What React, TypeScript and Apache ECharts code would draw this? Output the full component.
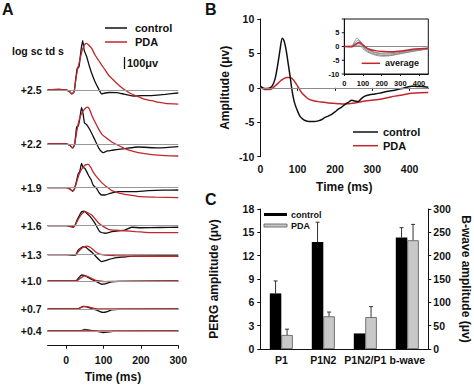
import React, { useEffect, useRef } from "react";
import * as echarts from "echarts";

// ---------------- DATA ----------------
// Panel A: flash intensities (log sc td s) and traces as [time ms, amplitude µV]
const intensityLabels = ["+2.5", "+2.2", "+1.9", "+1.6", "+1.3", "+1.0", "+0.7", "+0.4"];
const aTimeTicks = [0, 100, 200, 300];

const ctl25 = [[-50,0],[-20,4],[0,0],[10,-17],[15,-33],[21,-14],[25,83],[29.5,181],[34,192],[39.5,333],[44,411],[48,333],[55,275],[61,208],[68,139],[77,69],[86,14],[95,-33],[104,-25],[115,-21],[135,-22],[155,-35],[179,-50],[200,-47],[224,-47],[265,-36],[300,-25]];
const pda25 = [[-50,0],[-20,4],[0,0],[10,-17],[15,-33],[21,-14],[25,75],[30,167],[35,233],[40,300],[45,350],[50,383],[55,389],[60,375],[68,347],[77,292],[86,250],[95,208],[104,167],[113,125],[122,97],[140,42],[157,0],[175,-33],[193,-56],[211,-79],[229,-89],[250,-104],[265,-111],[300,-117]];
const ctl22 = [[-50,0],[0,0],[10,-12],[17,-33],[22,-8],[25,67],[28,142],[32,150],[36,208],[41,304],[45,250],[49,175],[55,160],[64,114],[77,31],[88,-38],[99,-72],[110,-58],[122,-52],[157,-38],[193,-25],[247,-33],[300,-22]];
const pda22 = [[-50,0],[0,0],[10,-12],[17,-33],[22,-8],[27,83],[32,167],[38,233],[45,275],[52,300],[57,308],[62,292],[68,242],[77,183],[86,128],[95,83],[104,58],[122,17],[140,-12],[157,-38],[175,-58],[193,-72],[229,-88],[265,-97],[300,-100]];
const ctl19 = [[-50,0],[0,0],[10,-12],[17,-30],[22,-8],[27,50],[32,117],[36,133],[41,203],[45,167],[50,162],[59,106],[66,70],[72,22],[81,-5],[88,-42],[95,-61],[104,-61],[117,-47],[140,-33],[179,-33],[220,-25],[260,-21],[300,-19]];
const pda19 = [[-50,0],[0,0],[10,-12],[17,-25],[22,-8],[28,50],[35,117],[42,158],[50,188],[59,195],[66,167],[73,125],[81,92],[95,42],[108,8],[122,-25],[144,-47],[170,-62],[198,-75],[240,-79],[300,-83]];
const ctl16 = [[-50,0],[0,0],[15,-4],[19,-13],[24,8],[29,47],[35,83],[41,117],[48,122],[56,100],[64,75],[77,19],[90,-50],[104,-63],[122,-50],[140,-42],[157,-36],[175,-13],[200,-17],[250,-15],[300,-13]];
const pda16 = [[-50,0],[0,0],[19,-13],[24,4],[30,42],[38,83],[45,108],[50,117],[58,108],[68,89],[77,58],[86,25],[100,-8],[113,-30],[135,-38],[157,-42],[185,-50],[211,-55],[250,-58],[300,-58]];
const ctl13 = [[-50,0],[0,0],[20,-4],[26,0],[32,39],[40,58],[46,67],[52,62],[60,42],[70,17],[80,-17],[88,-42],[95,-58],[104,-50],[115,-38],[126,-30],[150,-21],[180,-12],[250,-11],[300,-11]];
const pda13 = [[-50,0],[0,0],[24,0],[32,25],[40,50],[48,67],[56,72],[64,62],[72,42],[80,21],[90,4],[104,-3],[130,-8],[180,-12],[250,-13],[300,-13]];
const ctl10 = [[-50,0],[0,0],[25,0],[32,21],[41,50],[48,46],[55,37],[65,17],[75,4],[85,-12],[95,-27],[105,-23],[122,-8],[140,-3],[300,0]];
const pda10 = [[-50,0],[0,0],[28,0],[35,17],[44,37],[50,42],[58,36],[68,21],[77,8],[90,0],[104,-5],[130,-3],[300,0]];
const ctl07 = [[-50,0],[30,0],[38,12],[46,22],[55,17],[68,4],[80,-8],[90,-21],[99,-28],[110,-21],[122,-8],[140,-3],[300,0]];
const pda07 = [[-50,0],[30,0],[40,13],[50,22],[60,17],[75,5],[90,0],[300,0]];
const ctl04 = [[-50,0],[35,0],[45,8],[50,13],[60,8],[75,0],[90,-8],[99,-13],[110,-10],[125,-3],[300,0]];
const pda04 = [[-50,0],[35,0],[45,6],[50,8],[60,6],[75,1],[300,0]];

const aControl = [ctl25, ctl22, ctl19, ctl16, ctl13, ctl10, ctl07, ctl04];
const aPDA = [pda25, pda22, pda19, pda16, pda13, pda10, pda07, pda04];
const scaleBarUV = 100;

// Panel B: PERG waveforms [time ms, amplitude µV]
const bTimeTicks = [0, 100, 200, 300, 400];
const bControl = [[0,0.25],[12,-0.1],[25,0],[32,0.3],[39,1.2],[44,2.5],[48,3.8],[53,5.6],[59,7.2],[63,6.9],[67,6.1],[71,4.9],[75,3.4],[80,1.6],[84,0],[88,-1.3],[93,-2.4],[100,-3.4],[106,-4.1],[113,-4.5],[120,-4.75],[130,-4.9],[145,-4.9],[155,-4.8],[165,-4.6],[173,-4.3],[182,-4.1],[191,-3.85],[200,-3.5],[209,-3.1],[218,-2.8],[227,-2.4],[236,-2.1],[245,-1.8],[253,-1.9],[262,-2.0],[270,-1.6],[280,-1.2],[293,-1.0],[307,-0.9],[325,-0.7],[343,-0.5],[360,-0.35],[379,-0.1],[392,0.1],[405,0.24],[420,0.2],[432,0.2],[450,0.1]];
const bPDA = [[0,0.1],[12,-0.24],[26,-0.24],[39,0.24],[53,0.96],[62,1.3],[71,1.5],[78,1.5],[84,1.4],[90,1.05],[97,0.5],[104,-0.1],[111,-0.7],[120,-1.2],[129,-1.6],[140,-1.85],[155,-2.0],[170,-2.1],[182,-2.2],[195,-2.25],[209,-2.3],[222,-2.35],[236,-2.3],[254,-2.2],[268,-2.05],[280,-1.9],[298,-1.8],[316,-1.7],[340,-1.45],[361,-1.2],[383,-1.0],[405,-0.8],[428,-0.7],[450,-0.67]];

// Inset: individual PDA eyes (grey) and average (red)
const insetGrey1 = [[0,0],[40,0.2],[55,1.8],[68,3.0],[80,2.4],[100,0.6],[120,-0.8],[150,-1.8],[200,-2.4],[250,-2.3],[300,-1.8],[350,-1.4],[400,-1.0],[450,-0.7]];
const insetGrey2 = [[0,0],[40,0],[58,1.4],[72,2.2],[85,1.6],[105,-0.2],[130,-1.4],[160,-2.2],[210,-2.8],[260,-2.6],[310,-2.0],[370,-1.3],[450,-0.8]];
const insetGrey3 = [[0,0],[40,-0.1],[60,0.6],[78,1.1],[95,0.2],[115,-1.2],[140,-2.2],[180,-3.0],[220,-3.3],[260,-3.0],[320,-2.2],[400,-1.3],[450,-0.9]];
const insetGrey4 = [[0,0],[40,-0.2],[62,0.2],[80,0.5],[100,-0.8],[125,-2.0],[155,-2.9],[200,-3.5],[240,-3.4],[290,-2.8],[350,-2.0],[420,-1.2],[450,-1.0]];
const insetGrey = [insetGrey1, insetGrey2, insetGrey3, insetGrey4];
const insetAverage = [[0,0],[40,0],[55,0.5],[68,1.2],[79,1.5],[92,1.0],[110,0],[130,-0.9],[165,-1.5],[210,-1.8],[250,-1.9],[310,-1.6],[380,-0.9],[450,-0.6]];
const insetXTicks = [0, 100, 200, 300, 400];
const insetYTicks = [-10, -5, 0, 5, 10];
const insetYLabels = [-10, -5, 0, 5];

// Panel C: amplitudes (mean and error)
const pergCategories = ["P1", "P1N2", "P1N2/P1"];
const bwaveCategory = "b-wave";
const pergControl = [7.15, 13.75, 2.0];
const pergControlErr = [1.6, 2.55, 0];
const pergPDA = [1.8, 4.2, 4.1];
const pergPDAErr = [0.75, 0.55, 1.35];
const bwaveControl = 239;
const bwaveControlErr = 21;
const bwavePDA = 233;
const bwavePDAErr = 34;

// ---------------- LAYOUT / STYLE ----------------
const FONT = "'Liberation Sans', Arial, sans-serif";
const INK = "#111111";
const RED = "#c0272d";
const GREY = "#999999";
const A_BASELINES = [90, 144, 187.7, 225.7, 254.7, 281, 309, 331];
const A_LEFT = 47.6;
const A_WIDTH = 130.7;
const PX_PER_UV = 0.12;
const A_YMIN = -150;
const A_YMAX = 450;
const BAR_W = 11.5;
const INSET_GRID = 10;

const bold = (size: number, color = INK) => ({ fontFamily: FONT, fontWeight: "bold" as const, fontSize: size, color });

const t = (x: number, y: number, text: string, size: number, va = "middle", align = "left") => ({
  type: "text", x, y, z: 100, style: { text, fontFamily: FONT, fontWeight: "bold", fontSize: size, fill: INK, verticalAlign: va, align },
});
const ln = (x1: number, y1: number, x2: number, y2: number, color: string, w = 1.5) => ({
  type: "line", z: 100, shape: { x1, y1, x2, y2 }, style: { stroke: color, lineWidth: w },
});

function baseGraphic() {
  const scaleTop = 57;
  return [
    t(2, 1, "A", 16, "top"),
    t(205, 1, "B", 16, "top"),
    t(205, 191, "C", 16, "top"),
    ln(105, 28, 127, 28, INK), t(135, 28, "control", 11),
    ln(105, 42, 127, 42, RED), t(135, 42, "PDA", 11),
    t(12, 51, "log sc td s", 10.5),
    ln(124.5, scaleTop, 124.5, scaleTop + scaleBarUV * PX_PER_UV, INK, 1.3),
    t(127, scaleTop + (scaleBarUV * PX_PER_UV) / 2, "100\u03bcv", 11),
    ln(353, 132, 378, 132, INK), t(383, 132, "control", 11),
    ln(353, 145.7, 378, 145.7, RED), t(383, 145.7, "PDA", 11),
    ln(361.7, 63.3, 380, 63.3, RED), t(385, 63.3, "average", 9),
    { type: "rect", z: 100, shape: { x: 264, y: 213, width: 23, height: 3 }, style: { fill: "#000" } },
    t(291, 214.5, "control", 9),
    { type: "rect", z: 100, shape: { x: 264, y: 224, width: 23, height: 3 }, style: { fill: "#c8c8c8", stroke: "#555", lineWidth: 0.8 } },
    t(291, 225.5, "PDA", 9),
  ];
}

function buildOption() {
  const grid: any[] = [];
  const xAxis: any[] = [];
  const yAxis: any[] = [];
  const series: any[] = [];

  // Panel A trace grids
  intensityLabels.forEach((label, i) => {
    const base = A_BASELINES[i];
    grid.push({ left: A_LEFT, width: A_WIDTH, top: base - A_YMAX * PX_PER_UV, height: (A_YMAX - A_YMIN) * PX_PER_UV });
    xAxis.push({ gridIndex: i, type: "value", min: -50, max: 300, show: false });
    yAxis.push({
      gridIndex: i, type: "value", min: A_YMIN, max: A_YMAX,
      axisLine: { show: false }, axisTick: { show: false }, splitLine: { show: false },
      axisLabel: { customValues: [0], formatter: () => label, margin: 6, ...bold(10.5) },
    });
    series.push({
      type: "line", xAxisIndex: i, yAxisIndex: i, data: aControl[i], symbol: "none", silent: true,
      lineStyle: { opacity: 0 }, z: 1,
      markLine: { silent: true, symbol: ["none", "none"], label: { show: false }, emphasis: { disabled: true },
        lineStyle: { color: GREY, type: "solid", width: 1 }, data: [{ yAxis: 0 }] },
    });
    series.push({ name: "control", type: "line", xAxisIndex: i, yAxisIndex: i, data: aControl[i], symbol: "none", smooth: 0.2, lineStyle: { color: INK, width: 1.3 }, itemStyle: { color: INK }, z: 2 });
    series.push({ name: "PDA", type: "line", xAxisIndex: i, yAxisIndex: i, data: aPDA[i], symbol: "none", smooth: 0.2, lineStyle: { color: RED, width: 1.3 }, itemStyle: { color: RED }, z: 3 });
  });

  // Panel A time axis (grid 8)
  const aAxisBottom = 345.7;
  grid.push({ left: A_LEFT, width: A_WIDTH, top: aAxisBottom - 40, height: 40 });
  xAxis.push({
    gridIndex: 8, type: "value", min: -50, max: 300,
    axisLine: { lineStyle: { color: INK, width: 1 } },
    axisTick: { customValues: aTimeTicks, length: 3, lineStyle: { color: INK } },
    axisLabel: { customValues: aTimeTicks, margin: 9, ...bold(10.5) },
    splitLine: { show: false },
    name: "Time (ms)", nameLocation: "middle", nameGap: 25, nameTextStyle: bold(12),
  });
  yAxis.push({ gridIndex: 8, type: "value", min: 0, max: 1, show: false });

  // Panel B main (grid 9)
  grid.push({ left: 260.3, top: 19, width: 168, height: 137.7 });
  xAxis.push({
    gridIndex: 9, type: "value", min: 0, max: 450,
    axisLine: { lineStyle: { color: INK, width: 1 } },
    axisTick: { customValues: bTimeTicks, length: 3, lineStyle: { color: INK } },
    axisLabel: { customValues: bTimeTicks, margin: 7, ...bold(10.5) },
    splitLine: { show: false },
    name: "Time (ms)", nameLocation: "middle", nameGap: 24, nameTextStyle: bold(12),
  });
  yAxis.push({
    gridIndex: 9, type: "value", min: -10, max: 10, interval: 5,
    axisLine: { show: true, lineStyle: { color: INK, width: 1 } },
    axisTick: { show: true, length: 3, lineStyle: { color: INK } },
    axisLabel: { margin: 6, ...bold(10.5) },
    splitLine: { show: false },
    name: "Amplitude (\u03bcv)", nameLocation: "middle", nameRotate: 90, nameGap: 29, nameTextStyle: bold(12),
  });
  series.push({
    type: "line", xAxisIndex: 9, yAxisIndex: 9, data: bPDA, symbol: "none", silent: true, lineStyle: { opacity: 0 }, z: 1,
    markLine: { silent: true, symbol: ["none", "none"], label: { show: false }, emphasis: { disabled: true },
      lineStyle: { color: "#8a8a8a", type: "solid", width: 1 }, data: [{ yAxis: 0 }] },
  });
  series.push({ name: "PDA", type: "line", xAxisIndex: 9, yAxisIndex: 9, data: bPDA, symbol: "none", smooth: 0.3, lineStyle: { color: RED, width: 1.5 }, itemStyle: { color: RED }, z: 2 });
  series.push({ name: "control", type: "line", xAxisIndex: 9, yAxisIndex: 9, data: bControl, symbol: "none", smooth: 0.3, lineStyle: { color: INK, width: 1.5 }, itemStyle: { color: INK }, z: 3 });

  // Inset (grid 10)
  grid.push({ left: 344.3, top: 19, width: 84, height: 55, show: true, backgroundColor: "#ffffff", borderColor: INK, borderWidth: 1 });
  xAxis.push({
    gridIndex: INSET_GRID, type: "value", min: 0, max: 450,
    axisLine: { onZero: false, lineStyle: { color: INK, width: 1 } },
    axisTick: { customValues: insetXTicks, length: 2, lineStyle: { color: INK } },
    axisLabel: { customValues: insetXTicks, margin: 5, ...bold(7.5) },
    splitLine: { show: false },
  });
  yAxis.push({
    gridIndex: INSET_GRID, type: "value", min: -10, max: 10, interval: 5, position: "left",
    axisLine: { show: true, onZero: false, lineStyle: { color: INK, width: 1 } },
    axisTick: { show: false }, axisLabel: { show: false },
    splitLine: { show: false },
  });
  series.push({
    type: "line", xAxisIndex: INSET_GRID, yAxisIndex: INSET_GRID, data: insetAverage, symbol: "none", silent: true, lineStyle: { opacity: 0 }, z: 6,
    markLine: { silent: true, symbol: ["none", "none"], label: { show: false }, emphasis: { disabled: true },
      lineStyle: { color: "#8a8a8a", type: "solid", width: 1 }, data: [{ yAxis: 0 }] },
  });
  insetGrey.forEach((g) => {
    series.push({ type: "line", xAxisIndex: INSET_GRID, yAxisIndex: INSET_GRID, data: g, symbol: "none", smooth: 0.3, silent: true, lineStyle: { color: "#8c8c8c", width: 1 }, z: 7 });
  });
  series.push({ name: "average", type: "line", xAxisIndex: INSET_GRID, yAxisIndex: INSET_GRID, data: insetAverage, symbol: "none", smooth: 0.3, lineStyle: { color: RED, width: 1.5 }, itemStyle: { color: RED }, z: 8 });

  // Panel C (grid 11)
  const categories = [...pergCategories, bwaveCategory];
  grid.push({ left: 260.3, top: 209, width: 168, height: 140 });
  xAxis.push({
    gridIndex: 11, type: "category", data: categories,
    axisLine: { lineStyle: { color: INK, width: 1 } }, axisTick: { show: false },
    axisLabel: { interval: 0, hideOverlap: false, margin: 5, ...bold(10.5) }, splitLine: { show: false },
  });
  xAxis.push({ gridIndex: 11, type: "category", data: categories, show: false });
  yAxis.push({
    gridIndex: 11, type: "value", min: 0, max: 18, interval: 3, position: "left",
    axisLine: { show: true, lineStyle: { color: INK, width: 1 } },
    axisTick: { show: true, length: 3, lineStyle: { color: INK } },
    axisLabel: { margin: 6, ...bold(10.5) }, splitLine: { show: false },
    name: "PERG amplitude (\u03bcv)", nameLocation: "middle", nameRotate: 90, nameGap: 40, nameTextStyle: bold(12),
  });
  yAxis.push({
    gridIndex: 11, type: "value", min: 0, max: 300, interval: 50, position: "right",
    axisLine: { show: true, lineStyle: { color: INK, width: 1 } },
    axisTick: { show: true, length: 3, lineStyle: { color: INK } },
    axisLabel: { margin: 5, ...bold(10.5) }, splitLine: { show: false },
    name: "B-wave amplitude (\u03bcv)", nameLocation: "middle", nameRotate: -90, nameGap: 32, nameTextStyle: bold(12),
  });
  const xC = 11, xC2 = 12, yL = 11, yR = 12;
  const nulls = pergCategories.map(() => null);
  const ctlStyle = { color: "#000000" };
  const pdaStyle = { color: "#c8c8c8", borderColor: "#555555", borderWidth: 0.8 };
  series.push({ name: "control", type: "bar", xAxisIndex: xC, yAxisIndex: yL, data: [...pergControl, null], barWidth: BAR_W, barGap: "0%", itemStyle: ctlStyle, z: 2 });
  series.push({ name: "PDA", type: "bar", xAxisIndex: xC, yAxisIndex: yL, data: [...pergPDA, null], barWidth: BAR_W, barGap: "0%", itemStyle: pdaStyle, z: 2 });
  series.push({ name: "control", type: "bar", xAxisIndex: xC2, yAxisIndex: yR, data: [...nulls, bwaveControl], barWidth: BAR_W, barGap: "0%", itemStyle: ctlStyle, z: 2 });
  series.push({ name: "PDA", type: "bar", xAxisIndex: xC2, yAxisIndex: yR, data: [...nulls, bwavePDA], barWidth: BAR_W, barGap: "0%", itemStyle: pdaStyle, z: 2 });

  const errSeries = (xi: number, yi: number, vals: number[], errs: number[], start: number, offset: number) => ({
    type: "custom", xAxisIndex: xi, yAxisIndex: yi, silent: true, z: 4,
    data: vals.map((v, k) => [start + k, v, errs[k]]),
    encode: { x: 0, y: 1 },
    renderItem: (_p: any, api: any) => {
      const c = api.value(0), v = api.value(1), e = api.value(2);
      if (!e) return null;
      const p0 = api.coord([c, v]);
      const p1 = api.coord([c, v + e]);
      const x = p0[0] + offset;
      return {
        type: "group",
        children: [
          { type: "line", shape: { x1: x, y1: p0[1], x2: x, y2: p1[1] }, style: { stroke: "#333", lineWidth: 1 } },
          { type: "line", shape: { x1: x - 2, y1: p1[1], x2: x + 2, y2: p1[1] }, style: { stroke: "#333", lineWidth: 1 } },
        ],
      };
    },
  });
  series.push(errSeries(xC, yL, pergControl, pergControlErr, 0, -BAR_W / 2));
  series.push(errSeries(xC, yL, pergPDA, pergPDAErr, 0, BAR_W / 2));
  series.push(errSeries(xC2, yR, [bwaveControl], [bwaveControlErr], pergCategories.length, -BAR_W / 2));
  series.push(errSeries(xC2, yR, [bwavePDA], [bwavePDAErr], pergCategories.length, BAR_W / 2));

  return {
    animation: false,
    backgroundColor: "#ffffff",
    textStyle: { fontFamily: FONT },
    grid, xAxis, yAxis, series, graphic: baseGraphic(),
  };
}

export default function App() {
  const ref = useRef<HTMLDivElement>(null);
  useEffect(() => {
    if (!ref.current) return;
    const chart = echarts.init(ref.current, undefined, { renderer: "svg" });
    chart.setOption(buildOption() as any);
    // Inset y-axis ticks and labels, placed through the inset grid's own scale
    const extra: any[] = [];
    insetYTicks.forEach((v) => {
      const p = chart.convertToPixel({ gridIndex: INSET_GRID } as any, [0, v]) as number[];
      if (!p) return;
      extra.push(ln(p[0] - 2.5, p[1], p[0], p[1], INK, 1));
      if (insetYLabels.includes(v)) extra.push(t(p[0] - 5, p[1], String(v), 7.5, "middle", "right"));
    });
    chart.setOption({ graphic: [...baseGraphic(), ...extra] } as any);
    return () => chart.dispose();
  }, []);
  return <div ref={ref} style={{ position: "fixed", left: 0, top: 0, width: 474, height: 386 }} />;
}
